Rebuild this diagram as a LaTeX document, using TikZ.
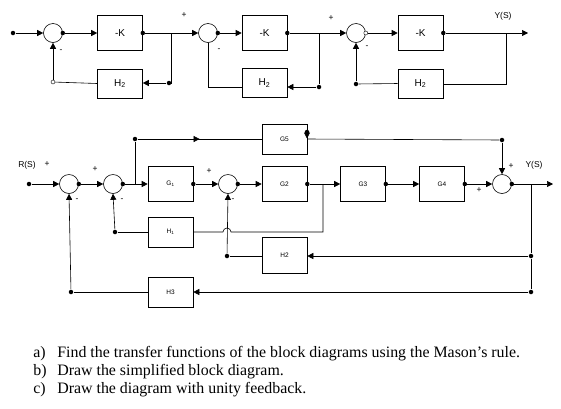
\documentclass[tikz,border=0pt]{standalone}
\usepackage{fontspec}
\setmainfont{Liberation Sans}
\newfontfamily\qfont{Liberation Serif}
\usetikzlibrary{positioning,calc,arrows.meta,decorations.markings}

\begin{document}
\begin{tikzpicture}[x=1pt, y=-1pt, line width=0.6pt,
    cs block/.style={draw, rectangle, minimum width=45pt, minimum height=35pt, align=center, font=\fontsize{10}{12}\selectfont},
    cs low/.style={cs block, minimum height=29pt},
    cs gblock/.style={cs block, font=\fontsize{6.5}{8}\selectfont},
    cs hblock/.style={cs gblock, minimum height=30pt},
    cs sum/.style={draw, circle, minimum size=19pt, inner sep=0pt},
    cs dot/.style={fill, circle, minimum size=4.5pt, inner sep=0pt},
    cs open/.style={draw, fill=white, circle, minimum size=4pt, inner sep=0pt, line width=0.4pt},
    cs label/.style={font=\fontsize{8.5}{10}\selectfont, inner sep=0pt},
    cs arrow/.style={-{Triangle[length=6pt,width=6pt]}},
    cs mid/.style={postaction=decorate, decoration={markings, mark=at position 0.5 with {\arrow{Triangle[length=6pt,width=6pt]}}}}]
    \useasboundingbox (0,0) rectangle (561,408);

    % first loop
    \node[cs dot] (in1) at (13,33) {};
    \node[cs sum] (s1) at (53,33) {};
    \node[cs block] (k1) at (120,33) {-K};
    \node[cs low] (h1) at (120,83.5) {H\textsubscript{2}};
    \node[cs dot] (s1d) at (s1.east) {};
    \node[cs dot] (k1d) at (k1.east) {};
    \node[cs dot] (b1) at (169,83) {};
    \node[cs open] (o1) at (53,82) {};

    % second loop
    \node[cs sum] (s2) at (208,33) {};
    \node[cs block] (k2) at (264.5,33) {-K};
    \node[cs low] (h2) at (264.5,83) {H\textsubscript{2}};
    \node[cs dot] (s2d) at (s2.east) {};
    \node[cs dot] (k2d) at (k2.east) {};
    \node[cs dot] (b2) at (319,87) {};

    % third loop
    \node[cs sum] (s3) at (356,33) {};
    \node[cs block] (k3) at (420.5,33) {-K};
    \node[cs low] (h3) at (420.5,83.5) {H\textsubscript{2}};
    \node[cs open] (s3d) at (s3.east) {};
    \node[cs dot] (k3d) at (k3.east) {};
    \node[cs dot] (b3) at (356,84) {};
    \coordinate (out1) at (528,33);
    \coordinate (c3) at (506,84);

    \draw[cs arrow] (in1) -- (s1.west);
    \draw[cs arrow] (s1d) -- (k1.west);
    \draw[cs arrow] (k1d) -- (s2.west);
    \draw (171,33) |- (b1);
    \draw[cs arrow] (b1) -- (b1 -| h1.east);
    \draw (h1.west) -- (o1);
    \draw[cs arrow] (o1) -- (s1.south);

    \draw[cs arrow] (s2d) -- (k2.west);
    \draw[cs arrow] (k2d) -- (s3.west);
    \draw (b2 |- k2d) -- (b2);
    \draw[cs arrow] (b2) -- (b2 -| h2.east);
    \draw (b2 -| h2.west) -| (s2.south);

    \draw[cs arrow] (s3d) -- (k3.west);
    \draw[cs arrow] (k3d) -- (out1);
    \draw (c3 |- k3d) -- (c3) -- (c3 -| h3.east);
    \draw (h3.west) -- (b3);
    \draw[cs arrow] (b3) -- (s3.south);

    \node[cs label] at (184,15) {+};
    \node[cs label] at (331,18) {+};
    \node[cs label] at (61,51) {-};
    \node[cs label] at (219,50) {-};
    \node[cs label] at (367,47) {-};
    \node[cs label] at (503,16) {Y(S)};

    % main diagram
    \node[cs dot] (rin) at (29,184) {};
    \node[cs sum] (s4) at (69,184) {};
    \node[cs sum] (s5) at (113,184) {};
    \node[cs gblock] (g1) at (170.5,184) {G\textsubscript{1}};
    \node[cs hblock] (hh1) at (170.5,232) {H\textsubscript{1}};
    \node[cs hblock] (hh3) at (170.5,292) {H3};
    \node[cs hblock] (g5) at (284.5,139) {G5};
    \node[cs sum] (s6) at (228,184) {};
    \node[cs gblock] (g2) at (284.5,184) {G2};
    \node[cs gblock, minimum height=36pt] (hh2) at (284.5,255.5) {H2};
    \node[cs gblock] (g3) at (363,184) {G3};
    \node[cs gblock] (g4) at (442,184) {G4};
    \node[cs sum] (s7) at (502,184) {};

    \node[cs dot] (s4d) at (s4.east) {};
    \node[cs dot] (s5d) at (s5.east) {};
    \node[cs dot] (s6d) at (s6.east) {};
    \node[cs dot] (s7d) at (s7.east) {};
    \node[cs dot] (g1d) at (g1.east) {};
    \node[cs dot] (g2d) at (g2.east) {};
    \node[cs dot] (g3d) at (g3.east) {};
    \node[cs dot] (g4d) at (g4.east) {};
    \node[cs dot] (ff) at (135,139) {};
    \node[cs dot] (g5t) at (307,132) {};
    \node[cs dot] (g5d) at (502,140) {};
    \node[cs dot] (fh1) at (115,232) {};
    \node[cs dot] (fh2) at (227,256) {};
    \node[cs dot] (fh3) at (71,292) {};
    \node[cs dot] (y2) at (531,256) {};
    \node[cs dot] (y3) at (531,292) {};
    \coordinate (out2) at (553,184);

    \draw[cs arrow] (rin) -- (s4.west);
    \draw[cs arrow] (s4d) -- (s5.west);
    \draw[cs arrow] (s5d) -- (g1.west);
    \draw (ff |- s5d) -- (ff);
    \draw[cs mid] (ff) -- (g5.west);
    \draw[cs arrow] (g5t) -- (307,138.5);
    \draw (g5.east) -- (g5d);
    \draw[cs arrow] (g5d) -- (s7.north);
    \draw[cs arrow] (g1d) -- (s6.west);
    \draw[cs arrow] (s6d) -- (g2.west);
    \draw[cs arrow] (g2d) -- (g3.west);
    \draw[cs arrow] (g3d) -- (g4.west);
    \draw[cs arrow] (g4d) -- (s7.west);
    \draw[cs arrow] (s7d) -- (out2);
    \draw (323,184) -- (323,232) -- (231,232) arc[start angle=0, end angle=180, radius=4pt] -- (hh1.east |- 0,232);
    \draw (hh1.west |- fh1) -- (fh1);
    \draw[cs arrow] (fh1) -- (s5.south);
    \draw (531,184) -- (y2) -- (y3);
    \draw[cs arrow] (y2) -- (y2 -| hh2.east);
    \draw (y2 -| hh2.west) -- (fh2);
    \draw[cs arrow] (fh2) -- (s6.south);
    \draw[cs arrow] (y3) -- (hh3.east);
    \draw (hh3.west) -- (fh3);
    \draw[cs arrow] (fh3) -- (s4.south);

    \node[cs label] at (27,165) {R(S)};
    \node[cs label] at (47,164) {+};
    \node[cs label] at (95,169) {+};
    \node[cs label] at (77,200) {-};
    \node[cs label] at (122,200) {-};
    \node[cs label] at (209,171) {+};
    \node[cs label] at (233,200) {-};
    \node[cs label] at (479,190) {+};
    \node[cs label] at (511,166) {+};
    \node[cs label] at (534,165) {Y(S)};

    % questions
    \begin{scope}[every node/.style={anchor=base west, inner sep=0pt, font=\qfont\fontsize{15.9}{18}\selectfont}]
        \node (qa) at (33,357) {a)};
        \node (qb) at (33,375) {b)};
        \node (qc) at (33,393) {c)};
        \node (ta) at (57,357) {Find the transfer functions of the block diagrams using the Mason’s rule.};
        \node (tb) at (57,375) {Draw the simplified block diagram.};
        \node (tc) at (57,393) {Draw the diagram with unity feedback.};
    \end{scope}
\end{tikzpicture}
\end{document}
